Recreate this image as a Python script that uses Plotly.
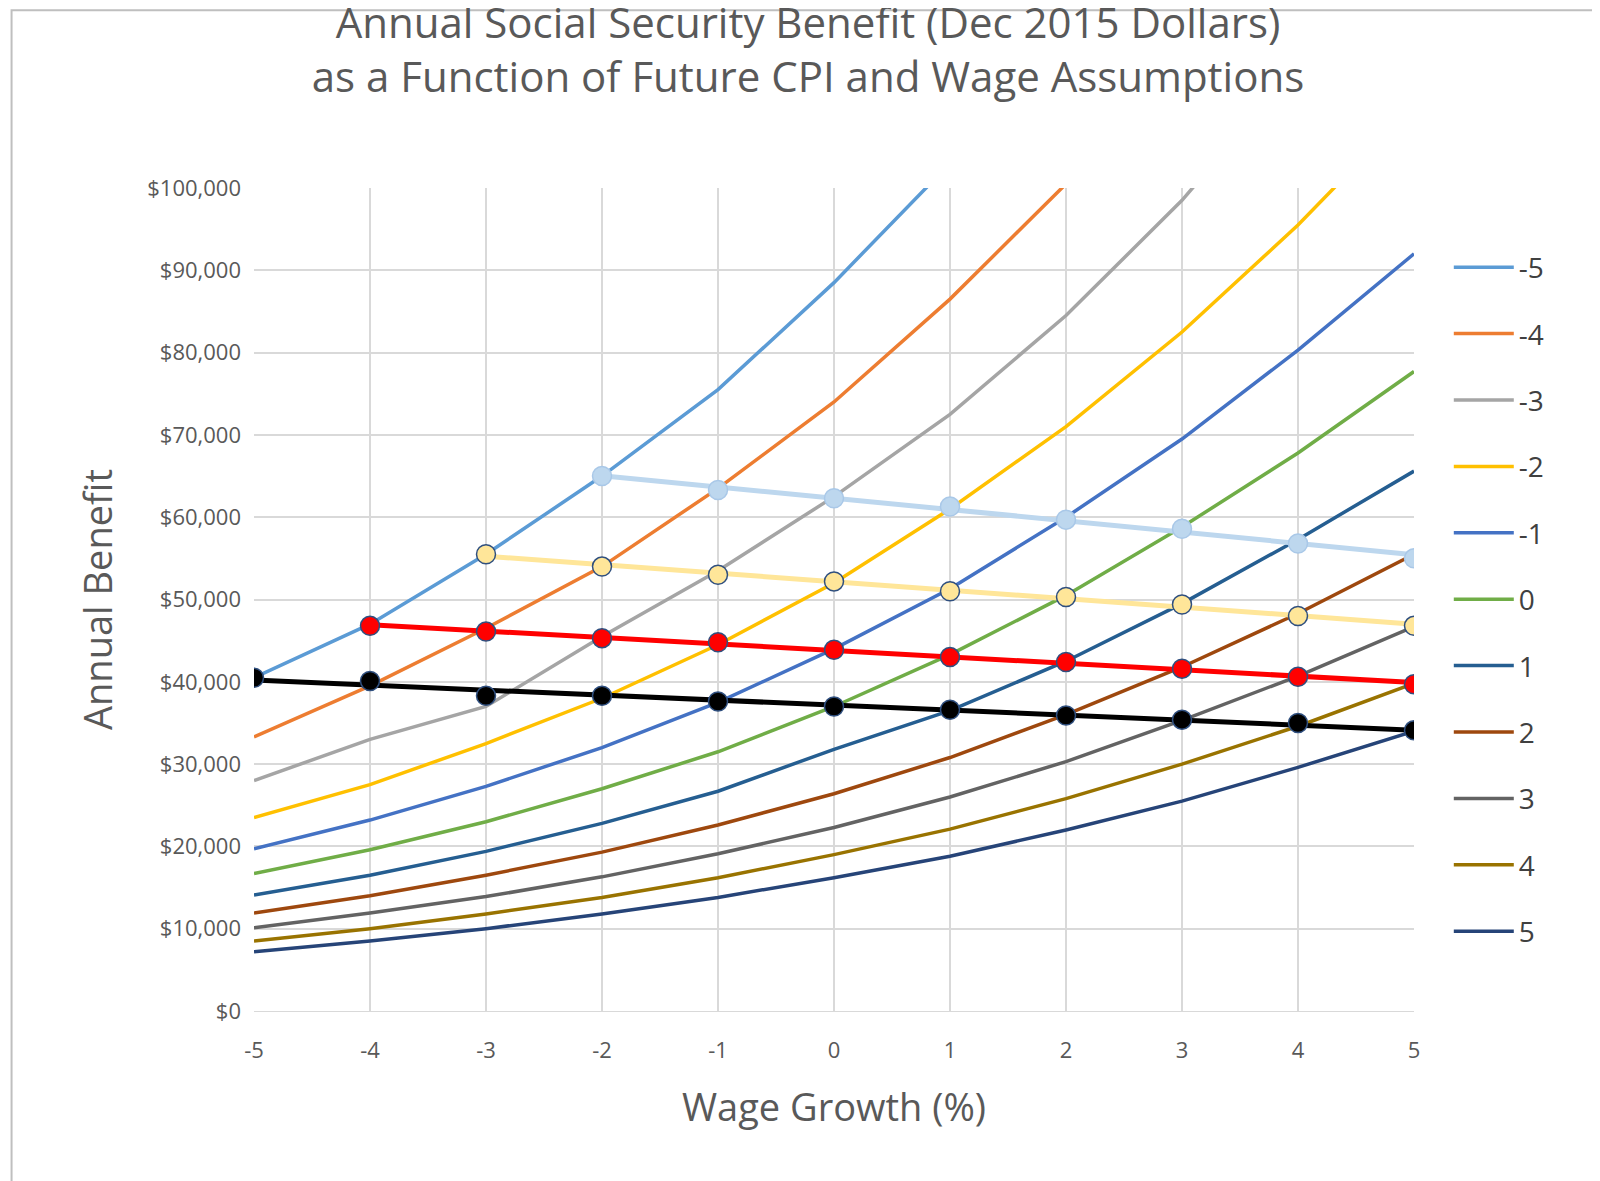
import numpy as np
import plotly.graph_objects as go

wage = [-5, -4, -3, -2, -1, 0, 1, 2, 3, 4, 5]
wage_ticks = ["-5", "-4", "-3", "-2", "-1", "0", "1", "2", "3", "4", "5"]
cpi_labels = ["-5", "-4", "-3", "-2", "-1", "0", "1", "2", "3", "4", "5"]
cpi_colors = ["#5B9BD5", "#ED7D31", "#A5A5A5", "#FFC000", "#4472C4", "#70AD47",
              "#255E91", "#9E480E", "#636363", "#997300", "#264478"]

benefit = [
    [40500, 47000, 55500, 65000, 75500, 88500, 103000, 120000, 140000, 163000, 190000],
    [33300, 39500, 46500, 54000, 63500, 74000, 86500, 100500, 117000, 136000, 158000],
    [28000, 33000, 37000, 45500, 53500, 62500, 72500, 84500, 98500, 115000, 134000],
    [23500, 27500, 32500, 38000, 44500, 52000, 61000, 71000, 82500, 95500, 110000],
    [19700, 23200, 27300, 32000, 37500, 44000, 51300, 60000, 69500, 80300, 92000],
    [16700, 19600, 23000, 27000, 31500, 37000, 43300, 50500, 58800, 67800, 77700],
    [14100, 16500, 19400, 22800, 26700, 31800, 36500, 42500, 49500, 57300, 65600],
    [11900, 14000, 16500, 19300, 22600, 26400, 30800, 36000, 41800, 48300, 55500],
    [10100, 11900, 13900, 16300, 19100, 22300, 26000, 30300, 35300, 40700, 46700],
    [8500, 10000, 11800, 13800, 16200, 19000, 22100, 25800, 30000, 34600, 39800],
    [7200, 8500, 10000, 11800, 13800, 16200, 18800, 22000, 25500, 29600, 34000],
]

# highlighted series (markers + straight trend line)
hl_x = [
    [-2, -1, 0, 1, 2, 3, 4, 5],
    [-3, -2, -1, 0, 1, 2, 3, 4, 5],
    [-4, -3, -2, -1, 0, 1, 2, 3, 4, 5],
    [-5, -4, -3, -2, -1, 0, 1, 2, 3, 4, 5],
]
hl_y = [
    [65000, 63300, 62300, 61300, 59700, 58600, 56800, 55000],
    [55500, 54000, 53000, 52200, 51000, 50300, 49400, 48000, 46800],
    [46800, 46100, 45300, 44800, 43900, 43000, 42400, 41600, 40600, 39700],
    [40500, 40100, 38300, 38300, 37600, 37000, 36600, 35900, 35400, 35000, 34100],
]
hl_colors = ["#BDD7EE", "#FFE699", "#FF0000", "#000000"]
hl_edge = ["#A9C8E8", "#2F4F7F", "#2F4F7F", "#2F4F7F"]

fig = go.Figure()
for i, lab in enumerate(cpi_labels):
    fig.add_trace(go.Scatter(x=wage, y=benefit[i], mode="lines", name=lab,
                             line=dict(color=cpi_colors[i], width=3.5),
                             legendgroup=lab))

for i in range(len(hl_x)):
    xs = np.array(hl_x[i])
    k, b = np.polyfit(xs, hl_y[i], 1)
    fig.add_trace(go.Scatter(x=xs, y=k * xs + b, mode="lines", showlegend=False,
                             line=dict(color=hl_colors[i], width=5)))
    fig.add_trace(go.Scatter(x=xs, y=hl_y[i], mode="markers", showlegend=False,
                             marker=dict(color=hl_colors[i], size=19,
                                         line=dict(color=hl_edge[i], width=1.5))))

fig.update_layout(
    width=1600, height=1181,
    paper_bgcolor="white", plot_bgcolor="white",
    font=dict(family="Open Sans", color="#595959"),
    margin=dict(l=246, r=194, t=180, b=178),
    title=dict(text="Annual Social Security Benefit (Dec 2015 Dollars)<br>as a Function of Future CPI and Wage Assumptions",
               x=0.5, xanchor="center", y=0.975, yanchor="top",
               font=dict(size=42, color="#595959")),
    legend=dict(x=1.03, y=0.5, yanchor="middle", font=dict(size=28, color="#404040"),
                tracegroupgap=27, itemwidth=60),
    shapes=[dict(type="rect", xref="paper", yref="paper", x0=-0.209, x1=1.164,
                 y0=-0.212, y1=1.216, line=dict(color="#BFBFBF", width=2))],
)
fig.update_xaxes(range=[-5, 5], tickvals=wage, ticktext=wage_ticks, showgrid=True,
                 gridcolor="#D9D9D9", gridwidth=1.5, zeroline=False, showline=True,
                 linecolor="#D9D9D9", tickfont=dict(size=22), ticks="",
                 ticklabelstandoff=20,
                 title=dict(text="Wage Growth (%)", font=dict(size=38), standoff=30))
fig.update_yaxes(range=[0, 100000], dtick=10000, tickprefix="$", tickformat=",",
                 showgrid=True, gridcolor="#D9D9D9", gridwidth=1.5, zeroline=False,
                 tickfont=dict(size=22), ticks="", ticklabelstandoff=12,
                 title=dict(text="Annual Benefit", font=dict(size=38), standoff=22))

fig.write_html("out.html")
